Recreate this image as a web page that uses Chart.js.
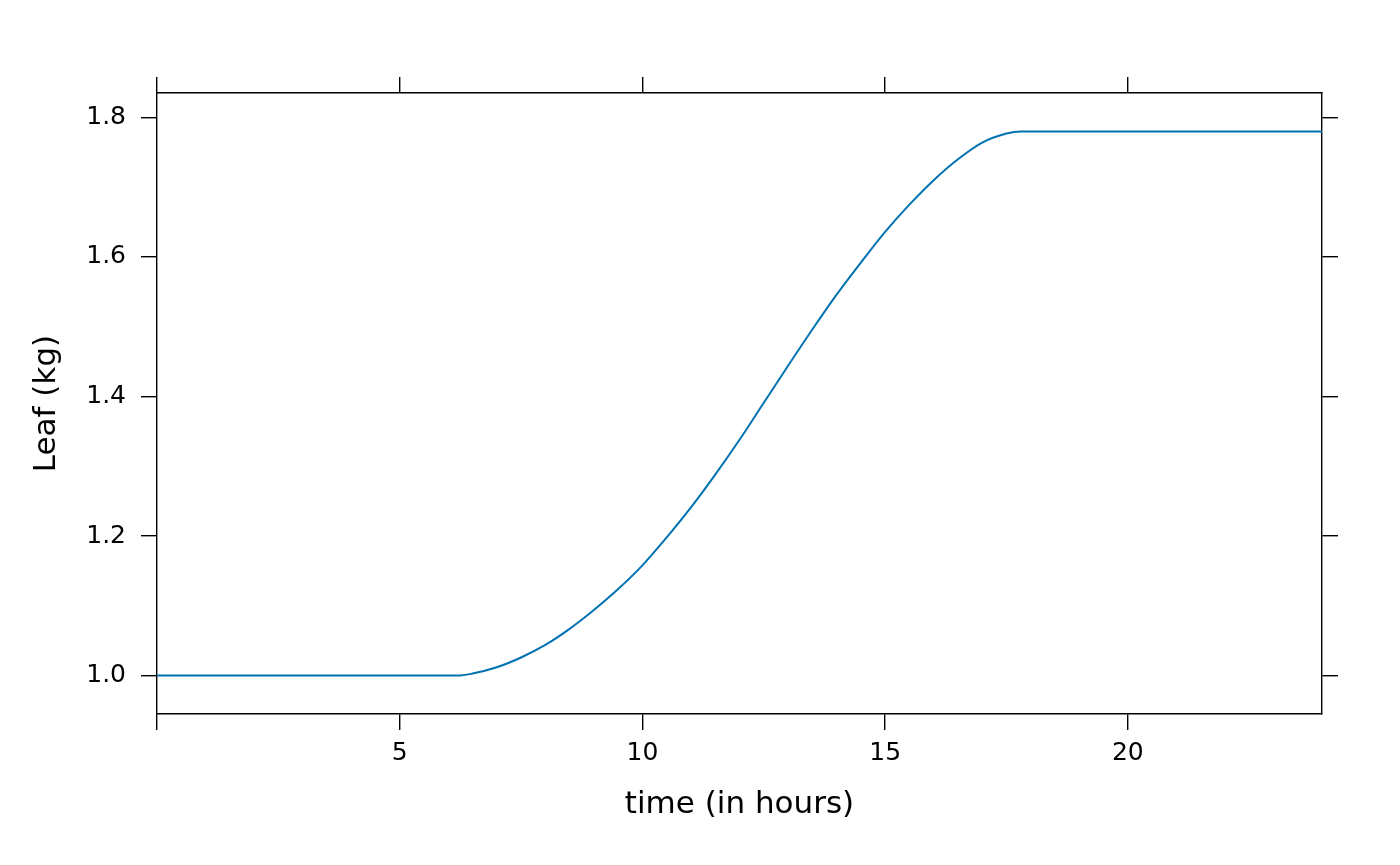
<!DOCTYPE html>
<html>
<head>
<meta charset="utf-8">
<script src="https://cdn.jsdelivr.net/npm/chart.js@4"></script>
<style>
  html, body { margin: 0; padding: 0; background: #fff; }
  #wrap { width: 1400px; height: 865px; }
</style>
</head>
<body>
<div id="wrap"><canvas id="chart" width="1400" height="865"></canvas></div>
<script>
// values
const hours = [0, 1, 2, 3, 4, 5, 6, 6.2, 6.5, 7, 7.5, 8, 8.5, 9, 9.5, 10, 10.5, 11, 11.5, 12,
  12.5, 13, 13.5, 14, 14.5, 15, 15.5, 16, 16.5, 17, 17.5, 17.8, 18, 19, 20, 21, 22, 23, 24];
const leafKg = [1.0, 1.0, 1.0, 1.0, 1.0, 1.0, 1.0, 1.0, 1.003, 1.012, 1.026, 1.044, 1.067, 1.094, 1.124, 1.158,
  1.198, 1.241, 1.288, 1.338, 1.391, 1.444, 1.496, 1.546, 1.592, 1.636, 1.675, 1.710, 1.740, 1.764,
  1.777, 1.780, 1.780, 1.780, 1.780, 1.780, 1.780, 1.780, 1.780];
const xTicks = [0, 5, 10, 15, 20];
const yTicks = [1.0, 1.2, 1.4, 1.6, 1.8];

const tickFont = { family: "DejaVu Sans", size: 25 };
const titleFont = { family: "DejaVu Sans", size: 31 };
const ink = "#000000";

function frame(extra) {
  return Object.assign({
    grid: { drawOnChartArea: false, drawTicks: true, tickLength: 16, color: ink, lineWidth: 1.4 },
    border: { display: true, color: ink, width: 1.4 }
  }, extra);
}

new Chart(document.getElementById("chart"), {
  type: "line",
  data: {
    datasets: [{
      data: hours.map((h, i) => ({ x: h, y: leafKg[i] })),
      borderColor: "#0072B2",
      borderWidth: 2,
      pointRadius: 0,
      cubicInterpolationMode: "monotone",
      fill: false
    }]
  },
  options: {
    responsive: false,
    animation: false,
    layout: { padding: 0 },
    plugins: { legend: { display: false }, tooltip: { enabled: false } },
    scales: {
      x: frame({
        type: "linear", position: "bottom", min: 0, max: 24,
        ticks: {
          stepSize: 5, includeBounds: false, font: tickFont, color: ink, padding: 8, maxRotation: 0,
          callback: v => xTicks.includes(v) && v !== 0 ? String(v) : ""
        },
        title: { display: true, text: "time (in hours)", font: titleFont, color: ink, padding: { top: 41, bottom: 41 } },
        afterFit: s => { s.height = 151; }
      }),
      x2: frame({
        type: "linear", position: "top", min: 0, max: 24,
        ticks: { stepSize: 5, includeBounds: false, font: tickFont, callback: () => "" },
        afterFit: s => { s.height = 93; }
      }),
      y: frame({
        type: "linear", position: "left", min: 0.945, max: 1.835,
        ticks: {
          stepSize: 0.2, includeBounds: false, font: tickFont, color: ink, padding: 15,
          callback: v => yTicks.some(t => Math.abs(t - v) < 1e-6) ? Number(v).toFixed(1) : ""
        },
        title: { display: true, text: "Leaf (kg)", font: titleFont, color: ink, padding: { top: 28, bottom: 0 } },
        afterFit: s => { s.width = 157; }
      }),
      y2: frame({
        type: "linear", position: "right", min: 0.945, max: 1.835,
        ticks: { stepSize: 0.2, includeBounds: false, font: tickFont, callback: () => "" },
        afterFit: s => { s.width = 78; }
      })
    }
  }
});
</script>
</body>
</html>
